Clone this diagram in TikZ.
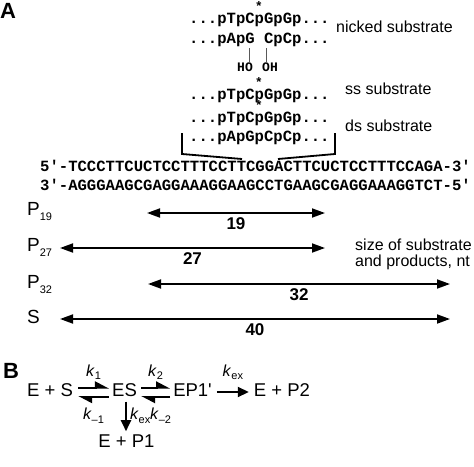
\documentclass[tikz,border=0pt]{standalone}
\usepackage{fontspec}
\setmainfont{Liberation Sans}
\setmonofont{Liberation Mono}
\usetikzlibrary{arrows.meta}
\usetikzlibrary{calc}

\newcommand{\seqfont}{\fontsize{15.6}{18}\selectfont\ttfamily\bfseries}
\newcommand{\Pn}[1]{P\raisebox{-5pt}{\fontsize{11}{11}\selectfont #1}}
\newcommand{\kr}[1]{\textit{k}\raisebox{-3.5pt}{\fontsize{11}{11}\selectfont #1}}

\tikzset{
  seq/.style={font=\seqfont, inner sep=0pt, anchor=mid west},
  seqlbl/.style={font=\fontsize{16}{16}\selectfont, inner sep=0pt, anchor=mid west},
  endlbl/.style={font=\fontsize{13}{13}\selectfont\ttfamily\bfseries, inner sep=0pt, anchor=mid},
  astx/.style={font=\fontsize{13}{13}\selectfont\bfseries, inner sep=0pt, anchor=base},
  panel/.style={font=\fontsize{22}{22}\selectfont\bfseries, inner sep=0pt, anchor=mid west},
  plbl/.style={font=\fontsize{19}{19}\selectfont, inner sep=0pt, anchor=mid west},
  span/.style={line width=1.8pt, {Triangle[length=13pt,width=9pt]}-{Triangle[length=13pt,width=9pt]}},
  spanlen/.style={font=\fontsize{17}{17}\selectfont\bfseries, inner sep=0pt, below=4pt},
  rx/.style={font=\fontsize{18.5}{18.5}\selectfont, inner sep=0pt, anchor=mid},
  kl/.style={font=\fontsize{16}{16}\selectfont, inner sep=0pt},
  fwd/.style={line width=2pt, -{Triangle[length=11pt,width=10pt]}},
  hfwd/.style={line width=2pt, -{Triangle[harpoon,length=12pt,width=12pt]}},
  brk/.style={line width=1.8pt},
  tick/.style={line width=0.7pt, gray!70!black},
}

\begin{document}
\begin{tikzpicture}[x=1pt,y=-1pt]
\useasboundingbox (0,0) rectangle (474,466);

\node[panel] (A) at (0,16) {A};
\node[panel] (B) at (3,376) {B};

\node[seq] (nick1) at (189,21) {...pTpCpGpGp...};
\node[seq] (nick2) at (189,41) {...pApG CpCp...};
\node[astx] (st1) at (259,10.5) {*};
\node[endlbl] (ho) at (245,69) {HO};
\node[endlbl] (oh) at (270,69) {OH};
\draw[tick] (249,48) -- (ho.north -| 249,0);
\draw[tick] (266,48) -- (oh.north -| 266,0);
\node[seqlbl] (nicklbl) at (336,30) {nicked substrate};

\node[seq] (ss) at (189,97) {...pTpCpGpGp...};
\node[astx] (st2) at (259,86.5) {*};
\node[seqlbl] (sslbl) at (345,92) {ss substrate};

\node[seq] (ds1) at (189,120) {...pTpCpGpGp...};
\node[seq] (ds2) at (189,139) {...pApGpCpCp...};
\node[astx] (st3) at (259,109.5) {*};
\node[seqlbl] (dslbl) at (345,129) {ds substrate};
\draw[brk] (182,133) -- (182,154) -- (242,159);
\draw[brk] (335,133) -- (335,154) -- (278,159);

\node[seq] (top) at (40,169) {5'-TCCCTTCUCTCCTTTCCTTCGGACTTCUCTCCTTTCCAGA-3'};
\node[seq] (bot) at (40,188) {3'-AGGGAAGCGAGGAAAGGAAGCCTGAAGCGAGGAAAGGTCT-5'};

\node[plbl] (p19) at (27,213) {\Pn{19}};
\node[plbl] (p27) at (27,249) {\Pn{27}};
\node[plbl] (p32) at (27,286) {\Pn{32}};
\node[plbl] (s) at (27,321) {S};
\coordinate (a19l) at (147,213);
\coordinate (a19r) at (325,213);
\coordinate (a27l) at (60,248);
\coordinate (a27r) at (325,248);
\coordinate (a32l) at (148,284);
\coordinate (a32r) at (450,284);
\coordinate (a40l) at (60,319);
\coordinate (a40r) at (450,319);
\draw[span] (a19l) to node[spanlen] {19} (a19r);
\draw[span] (a27l) to node[spanlen] {27} (a27r);
\draw[span] (a32l) to node[spanlen] {32} (a32r);
\draw[span] (a40l) to node[spanlen] {40} (a40r);
\node[seqlbl, anchor=north west, align=left, font=\fontsize{16}{16}\selectfont] (sizelbl) at (355,239) {size of substrate\\and products, nt};

\node[rx] (ES0) at (50,394) {E + S};
\node[rx] (ES) at (124.5,394) {ES};
\node[rx] (EP) at (192.5,394) {EP1\textquotesingle};
\node[rx] (EP2) at (282,394) {E + P2};
\node[rx] (EP1) at (126.5,445) {E + P1};
\draw[hfwd] ([xshift=5pt,yshift=6.5pt]ES0.mid east) to node[kl, above=7pt] {\kr{1}} ([xshift=-3pt,yshift=6.5pt]ES.mid west);
\draw[hfwd] ([xshift=-3pt,yshift=-3pt]ES.mid west) to node[kl, below=10pt] {\kr{--1}} ([xshift=5pt,yshift=-3pt]ES0.mid east);
\draw[hfwd] ([xshift=4pt,yshift=6.5pt]ES.mid east) to node[kl, above=7pt] {\kr{2}} ([xshift=-3pt,yshift=6.5pt]EP.mid west);
\draw[hfwd] ([xshift=-3pt,yshift=-3pt]EP.mid west) to node[kl, below=10pt, xshift=5pt] {\kr{--2}} ([xshift=4pt,yshift=-3pt]ES.mid east);
\draw[fwd, shorten <=5pt, shorten >=5pt] ([yshift=2pt]EP.mid east) to node[kl, above=11pt] {\kr{ex}} ([yshift=2pt]EP2.mid west);
\draw[fwd, shorten <=4.5pt, shorten >=3.5pt] ([xshift=1.5pt]ES.south) to node[kl, right=3pt] {\kr{ex}} ([xshift=1.5pt]ES.south |- EP1.north);
\end{tikzpicture}
\end{document}
